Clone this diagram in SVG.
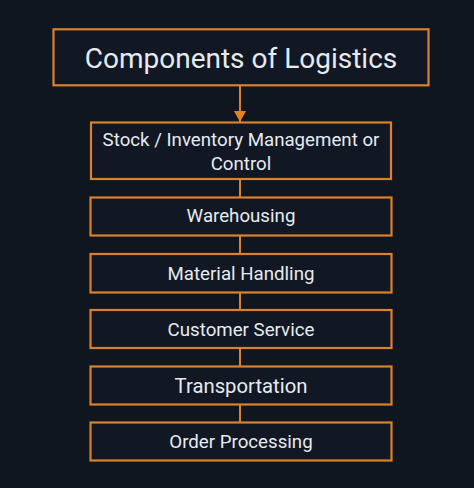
<svg xmlns="http://www.w3.org/2000/svg" width="474" height="488" viewBox="0 0 474 488">
<style>
.box{fill:#111723;stroke:#d9822e;stroke-width:2.2}
.t{font-family:Roboto,"Liberation Sans",sans-serif;fill:#e6ebf0;text-anchor:middle}
.s{font-size:18.7px}
.c{stroke:#d9822e;stroke-width:2;fill:none}
</style>
<defs>
<marker id="ah" viewBox="0 0 11 12" refX="11" refY="6" markerWidth="11" markerHeight="12" markerUnits="userSpaceOnUse" orient="auto">
<path d="M0,0 L11,6 L0,12 Z" fill="#e8821f"/>
</marker>
</defs>
<rect width="474" height="488" fill="#101620"/>
<g id="connectors">
<path class="c" d="M240,86 V122" marker-end="url(#ah)"/>
<path class="c" d="M240,179 V197"/>
<path class="c" d="M240,236 V254"/>
<path class="c" d="M240,292 V310"/>
<path class="c" d="M240,348 V366"/>
<path class="c" d="M240,405 V422"/>
</g>
<g id="title">
<rect class="box" x="53.5" y="29.3" width="375" height="56"/>
<text class="t" x="241" y="68" font-size="28">Components of Logistics</text>
</g>
<g id="stock">
<rect class="box" x="91" y="122.5" width="300" height="56.5"/>
<text class="t s" x="241" y="146">Stock / Inventory Management or</text>
<text class="t s" x="241" y="170">Control</text>
</g>
<g id="warehousing">
<rect class="box" x="90.5" y="197.5" width="301" height="38"/>
<text class="t s" x="241" y="222">Warehousing</text>
</g>
<g id="material">
<rect class="box" x="90.5" y="254" width="301" height="38.5"/>
<text class="t s" x="241" y="279.5">Material Handling</text>
</g>
<g id="customer">
<rect class="box" x="90.5" y="310" width="301" height="38"/>
<text class="t s" x="241" y="335.5">Customer Service</text>
</g>
<g id="transportation">
<rect class="box" x="90.5" y="366.5" width="301" height="38"/>
<text class="t" x="241" y="392.5" font-size="20.3">Transportation</text>
</g>
<g id="order">
<rect class="box" x="90.5" y="422.5" width="301" height="38"/>
<text class="t s" x="241" y="448">Order Processing</text>
</g>
</svg>
